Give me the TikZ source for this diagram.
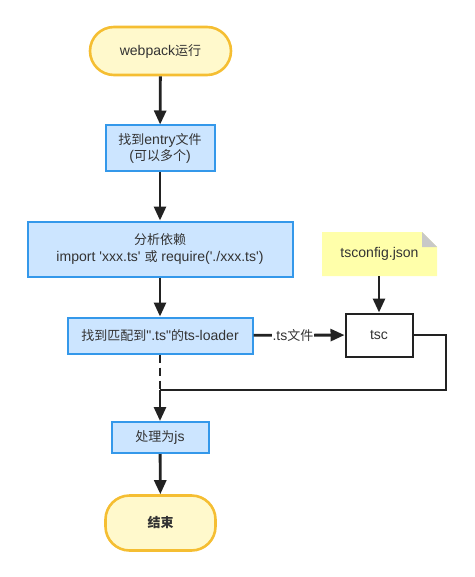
\documentclass[tikz,border=0pt]{standalone}
\usepackage{fontspec}
\setmainfont{Liberation Sans}[Ligatures=TeXOff,Scale=1.08]
\newfontfamily\cjk{Noto Sans CJK SC}
\newcommand{\zh}[1]{{\cjk #1}}
\usetikzlibrary{arrows.meta,shapes.misc}
\definecolor{blueFill}{RGB}{204,229,255}
\definecolor{blueLine}{RGB}{52,152,234}
\definecolor{yelFill}{RGB}{255,249,204}
\definecolor{yelLine}{RGB}{245,190,50}
\definecolor{noteFill}{RGB}{255,255,170}
\definecolor{foldGray}{RGB}{200,200,200}
\definecolor{ink}{RGB}{34,34,34}
\definecolor{txt}{RGB}{51,51,51}
\tikzset{
  lbl/.style={font=\fontsize{13}{16.5}\selectfont, text=txt},
  term/.style={lbl, draw=yelLine, fill=yelFill, line width=2.6pt, rounded corners=24pt,
    minimum width=141pt, minimum height=48pt, inner sep=0pt},
  proc/.style={lbl, draw=blueLine, fill=blueFill, line width=2pt, align=center, inner sep=0pt},
  plain/.style={lbl, draw=ink, fill=white, line width=2pt, minimum width=67pt, minimum height=43pt,
    inner sep=0pt},
  flow/.style={draw=ink, line width=2.8pt, -{Triangle[width=12pt,length=14pt]}},
  thin/.style={draw=ink, line width=2pt},
}
\begin{document}
\begin{tikzpicture}[x=1pt,y=-1pt]
\useasboundingbox (0,0) rectangle (474,577);
\node[term] (start) at (160.5,51) {webpack\zh{运行}};
\node[proc, minimum width=109pt, minimum height=46pt] (entry) at (160,148.5) {\zh{找到}entry\zh{文件}\\(\zh{可以多个})};
\node[proc, minimum width=265pt, minimum height=55pt] (dep) at (160,249) {\zh{分析依赖}\\import 'xxx.ts' \zh{或} require('./xxx.ts')};
\node[proc, minimum width=185pt, minimum height=36pt] (loader) at (160,335.5) {\zh{找到匹配到}".ts"\zh{的}ts-loader};
\node[plain] (tsc) at (379,335) {tsc};
\node[proc, minimum width=97pt, minimum height=31pt] (js) at (160,437.5) {\zh{处理为}js};
\node[term, minimum width=110pt, minimum height=55pt, rounded corners=24pt] (end) at (160.5,523) {\cjk\bfseries 结束};
% note
\fill[noteFill] (322,232) -- (422,232) -- (437,247) -- (437,276) -- (322,276) -- cycle;
\fill[foldGray] (422,232) -- (437,247) -- (422,247) -- cycle;
\node[lbl] (note) at (379.5,254) {tsconfig.json};
\coordinate (noteb) at (379,276);
\coordinate (join) at (160,390);
\coordinate (rc) at (446,335);
\coordinate (rb) at (446,390);
% connectors
\draw[flow] (start) -- (entry);
\draw[flow] (entry) -- (dep);
\draw[flow] (dep) -- (loader);
\draw[flow] (noteb) -- (tsc);
\draw[flow] (loader) -- node[lbl, fill=white, inner sep=0.5pt, xshift=-6pt] {.ts\zh{文件}} (tsc);
\draw[ink, line width=2.8pt, dash pattern=on 8pt off 5pt] (loader.south) -- (join);
\draw[thin] (tsc.east) -- (rc) -- (rb) -- (join);
\draw[flow] (join) -- (js);
\draw[flow] (js) -- (end);
\end{tikzpicture}
\end{document}
